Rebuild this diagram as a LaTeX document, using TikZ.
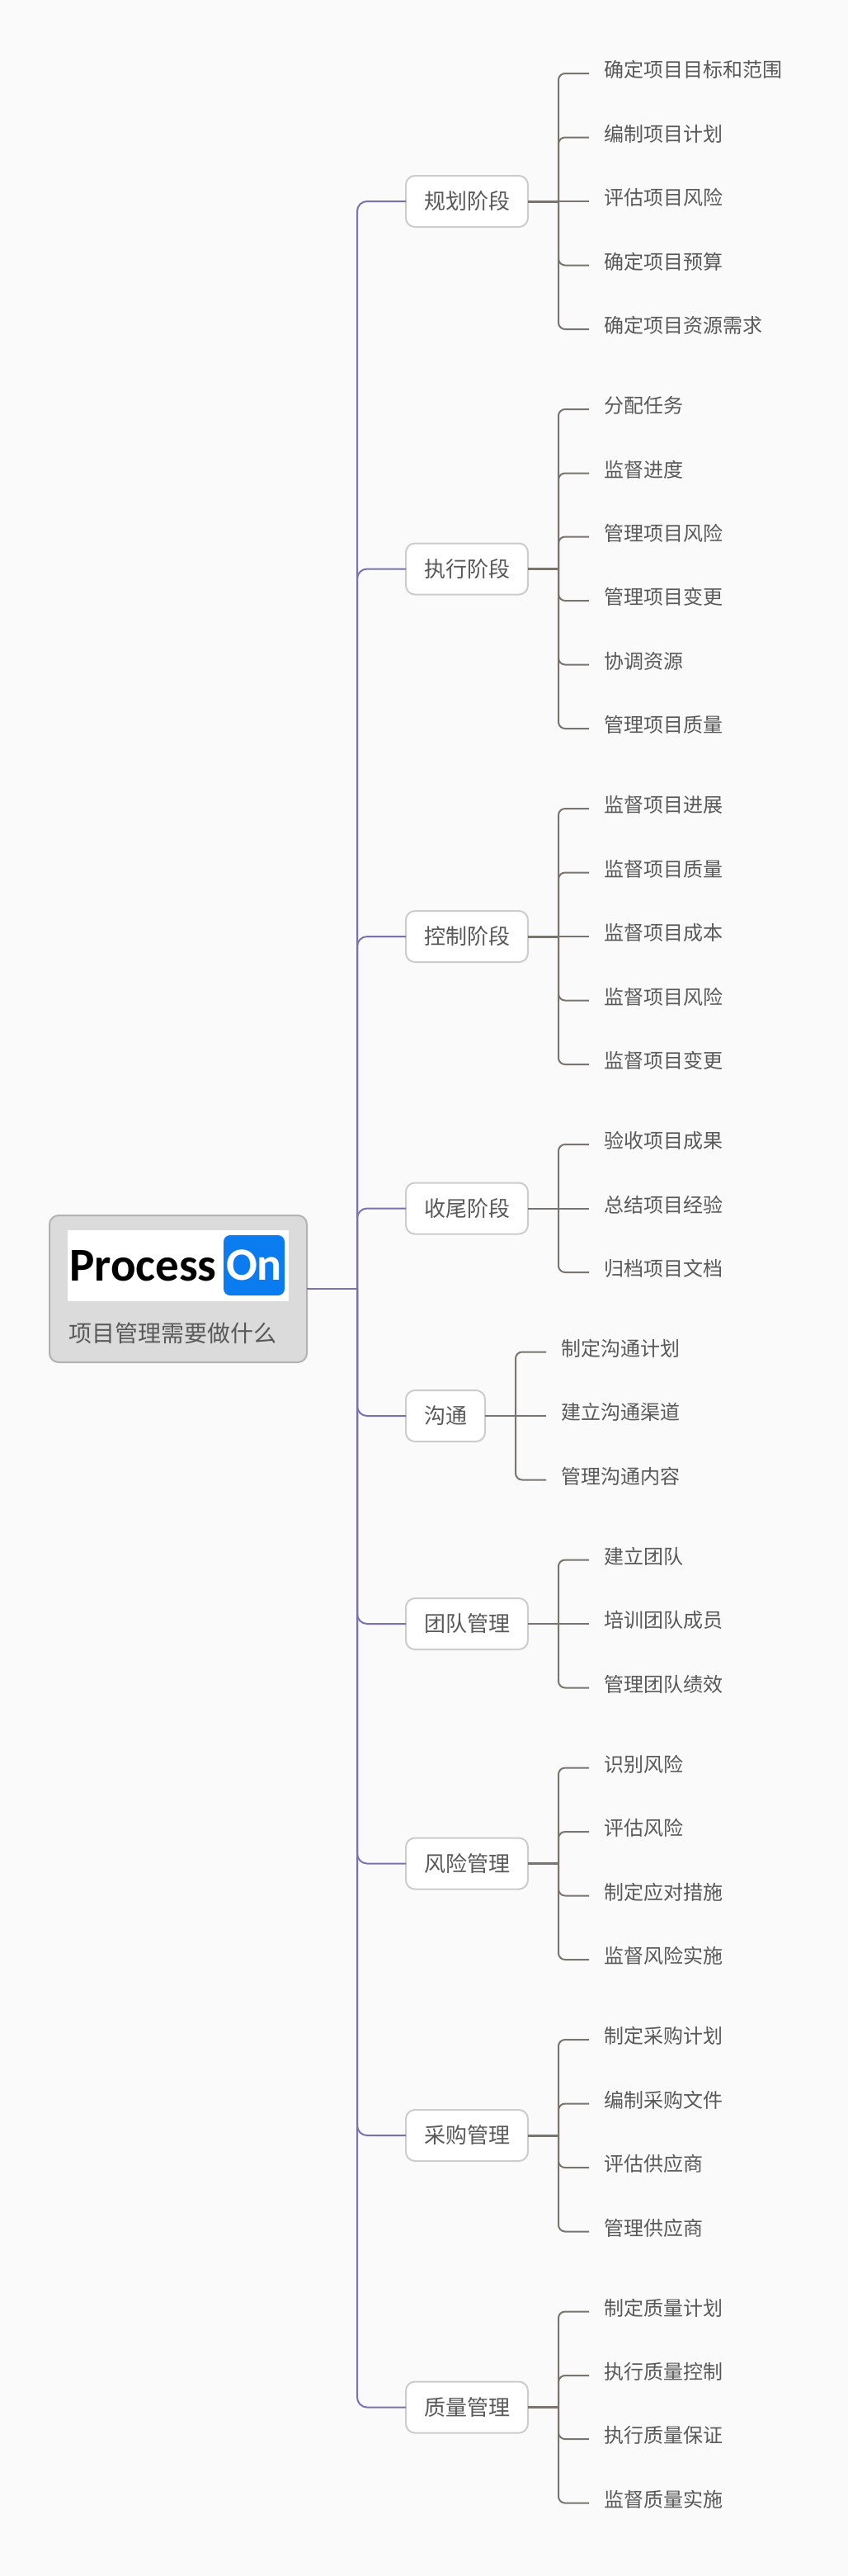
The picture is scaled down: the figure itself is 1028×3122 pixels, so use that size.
\documentclass[tikz,border=0pt]{standalone}
\usepackage{fontspec}
\usetikzlibrary{calc}
\setmainfont{Noto Sans CJK SC}
\newfontfamily\logofont{Carlito}[BoldFont=Carlito Bold]
\definecolor{pagebg}{HTML}{FAFAFA}
\definecolor{inkgray}{HTML}{595959}
\definecolor{trunkcol}{HTML}{7A72B0}
\definecolor{twigcol}{HTML}{7A746E}
\definecolor{logoblue}{HTML}{0A7CF0}
\tikzset{
  stage/.style={draw=black!20,fill=white,line width=2pt,rounded corners=11pt,anchor=west,outer sep=0pt,
    minimum height=62pt,inner xsep=22pt,inner ysep=0pt,text height=28pt,text depth=8.2pt,text=inkgray,
    font=\fontsize{26pt}{30pt}\selectfont},
  leaf/.style={anchor=west,outer sep=0pt,inner xsep=18pt,inner ysep=0pt,text height=24pt,text depth=14.5pt,
    text=inkgray,font=\fontsize{24pt}{28pt}\selectfont},
  trunk/.style={draw=trunkcol,line width=2pt,rounded corners=12pt},
  twig/.style={draw=twigcol,line width=2pt,rounded corners=8pt},
  stem/.style={draw=twigcol,line width=3pt}
}
\def\stagenode{\node[stage]}
\def\leafnode{\node[leaf]}

\begin{document}
\begin{tikzpicture}[x=1pt,y=-1pt]
\fill[pagebg] (0,0) rectangle (1028,3122);
% root box with the logo
\node[draw=black!30,fill=black!14,line width=2pt,rounded corners=11pt,outer sep=0pt,minimum width=312pt,minimum height=178pt] (root) at (216,1562) {};
\node[fill=white,minimum width=268pt,minimum height=86pt,outer sep=0pt] (logobg) at (216,1534) {};
\node[anchor=base west,inner sep=0pt,font=\logofont\bfseries\fontsize{57pt}{60pt}\selectfont] (logoword) at (84,1552) {Process};
\node[fill=logoblue,text=white,rounded corners=8pt,minimum width=74pt,minimum height=73pt,inner sep=0pt,font=\logofont\bfseries\fontsize{56pt}{60pt}\selectfont] (logoon) at (308,1533.5) {On};
\node[anchor=west,inner sep=0pt,text=inkgray,font=\fontsize{28pt}{32pt}\selectfont] (roottitle) at (83,1616) {项目管理需要做什么};
% stages
\stagenode (plan) at (492,244) {规划阶段};
\stagenode (exec) at (492,689.5) {执行阶段};
\stagenode (ctrl) at (492,1135) {控制阶段};
\stagenode (wrap) at (492,1464.5) {收尾阶段};
\stagenode (comm) at (492,1716) {沟通};
\stagenode (team) at (492,1968) {团队管理};
\stagenode (risk) at (492,2258.5) {风险管理};
\stagenode (proc) at (492,2588) {采购管理};
\stagenode (qual) at (492,2917.5) {质量管理};
% leaves
\leafnode (plan1) at (714,89) {确定项目目标和范围};
\leafnode (plan2) at (714,166.5) {编制项目计划};
\leafnode (plan3) at (714,244) {评估项目风险};
\leafnode (plan4) at (714,321.5) {确定项目预算};
\leafnode (plan5) at (714,399) {确定项目资源需求};
\leafnode (exec1) at (714,496) {分配任务};
\leafnode (exec2) at (714,573.5) {监督进度};
\leafnode (exec3) at (714,650.5) {管理项目风险};
\leafnode (exec4) at (714,728) {管理项目变更};
\leafnode (exec5) at (714,805.5) {协调资源};
\leafnode (exec6) at (714,883) {管理项目质量};
\leafnode (ctrl1) at (714,980) {监督项目进展};
\leafnode (ctrl2) at (714,1057.5) {监督项目质量};
\leafnode (ctrl3) at (714,1135) {监督项目成本};
\leafnode (ctrl4) at (714,1212.5) {监督项目风险};
\leafnode (ctrl5) at (714,1290) {监督项目变更};
\leafnode (wrap1) at (714,1387) {验收项目成果};
\leafnode (wrap2) at (714,1464.5) {总结项目经验};
\leafnode (wrap3) at (714,1542) {归档项目文档};
\leafnode (comm1) at (662,1638.5) {制定沟通计划};
\leafnode (comm2) at (662,1716) {建立沟通渠道};
\leafnode (comm3) at (662,1793.5) {管理沟通内容};
\leafnode (team1) at (714,1890.5) {建立团队};
\leafnode (team2) at (714,1968) {培训团队成员};
\leafnode (team3) at (714,2045.5) {管理团队绩效};
\leafnode (risk1) at (714,2142.5) {识别风险};
\leafnode (risk2) at (714,2220) {评估风险};
\leafnode (risk3) at (714,2297.5) {制定应对措施};
\leafnode (risk4) at (714,2375) {监督风险实施};
\leafnode (proc1) at (714,2472) {制定采购计划};
\leafnode (proc2) at (714,2549.5) {编制采购文件};
\leafnode (proc3) at (714,2627) {评估供应商};
\leafnode (proc4) at (714,2704.5) {管理供应商};
\leafnode (qual1) at (714,2801.5) {制定质量计划};
\leafnode (qual2) at (714,2879) {执行质量控制};
\leafnode (qual3) at (714,2956) {执行质量保证};
\leafnode (qual4) at (714,3033.5) {监督质量实施};
% forks
\coordinate (rootfork) at ($(root.east)+(61,0)$);
\coordinate (planfork) at ($(plan.east)+(37,0)$);
\coordinate (execfork) at ($(exec.east)+(37,0)$);
\coordinate (ctrlfork) at ($(ctrl.east)+(37,0)$);
\coordinate (wrapfork) at ($(wrap.east)+(37,0)$);
\coordinate (commfork) at ($(comm.east)+(37,0)$);
\coordinate (teamfork) at ($(team.east)+(37,0)$);
\coordinate (riskfork) at ($(risk.east)+(37,0)$);
\coordinate (procfork) at ($(proc.east)+(37,0)$);
\coordinate (qualfork) at ($(qual.east)+(37,0)$);
% trunk
\draw[trunk] (root.east) -- (rootfork);
\draw[trunk] (rootfork) |- (plan.west);
\draw[trunk] (rootfork) |- (exec.west);
\draw[trunk] (rootfork) |- (ctrl.west);
\draw[trunk] (rootfork) |- (wrap.west);
\draw[trunk] (rootfork) |- (comm.west);
\draw[trunk] (rootfork) |- (team.west);
\draw[trunk] (rootfork) |- (risk.west);
\draw[trunk] (rootfork) |- (proc.west);
\draw[trunk] (rootfork) |- (qual.west);
% twigs
\draw[stem] (plan.east) -- (planfork);
\draw[twig] (planfork) |- (plan1.west);
\draw[twig] (planfork) |- (plan2.west);
\draw[twig] (planfork) -- (plan3.west);
\draw[twig] (planfork) |- (plan4.west);
\draw[twig] (planfork) |- (plan5.west);
\draw[stem] (exec.east) -- (execfork);
\draw[twig] (execfork) |- (exec1.west);
\draw[twig] (execfork) |- (exec2.west);
\draw[twig] (execfork) |- (exec3.west);
\draw[twig] (execfork) |- (exec4.west);
\draw[twig] (execfork) |- (exec5.west);
\draw[twig] (execfork) |- (exec6.west);
\draw[stem] (ctrl.east) -- (ctrlfork);
\draw[twig] (ctrlfork) |- (ctrl1.west);
\draw[twig] (ctrlfork) |- (ctrl2.west);
\draw[twig] (ctrlfork) -- (ctrl3.west);
\draw[twig] (ctrlfork) |- (ctrl4.west);
\draw[twig] (ctrlfork) |- (ctrl5.west);
\draw[twig] (wrap.east) -- (wrapfork);
\draw[twig] (wrapfork) |- (wrap1.west);
\draw[twig] (wrapfork) -- (wrap2.west);
\draw[twig] (wrapfork) |- (wrap3.west);
\draw[twig] (comm.east) -- (commfork);
\draw[twig] (commfork) |- (comm1.west);
\draw[twig] (commfork) -- (comm2.west);
\draw[twig] (commfork) |- (comm3.west);
\draw[twig] (team.east) -- (teamfork);
\draw[twig] (teamfork) |- (team1.west);
\draw[twig] (teamfork) -- (team2.west);
\draw[twig] (teamfork) |- (team3.west);
\draw[stem] (risk.east) -- (riskfork);
\draw[twig] (riskfork) |- (risk1.west);
\draw[twig] (riskfork) |- (risk2.west);
\draw[twig] (riskfork) |- (risk3.west);
\draw[twig] (riskfork) |- (risk4.west);
\draw[stem] (proc.east) -- (procfork);
\draw[twig] (procfork) |- (proc1.west);
\draw[twig] (procfork) |- (proc2.west);
\draw[twig] (procfork) |- (proc3.west);
\draw[twig] (procfork) |- (proc4.west);
\draw[stem] (qual.east) -- (qualfork);
\draw[twig] (qualfork) |- (qual1.west);
\draw[twig] (qualfork) |- (qual2.west);
\draw[twig] (qualfork) |- (qual3.west);
\draw[twig] (qualfork) |- (qual4.west);
\end{tikzpicture}
\end{document}
